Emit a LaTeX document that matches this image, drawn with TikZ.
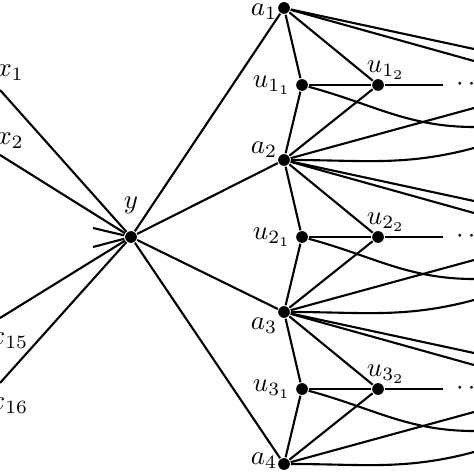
\documentclass[tikz,border=0pt]{standalone}
\usepackage{amsmath}
\usepackage{amssymb}
\begin{document}
\begin{tikzpicture}[x=0.015cm,y=-0.015cm,line width=0.9pt,
  vert/.style={circle,fill,inner sep=0pt,minimum size=5pt},
  lab/.style={inner sep=0pt,scale=1.15}]
\useasboundingbox (0,0) rectangle (474,474);
\clip (0,0) rectangle (474,474);
% centre vertex y and the leaves x_1,...,x_16
\node[vert] (y) at (131,237) {};
\node[lab] (ly) at (131,205) {$y$};
\coordinate (x1) at (0,90);
\coordinate (x2) at (0,155);
\coordinate (x15) at (0,318);
\coordinate (x16) at (0,383);
\coordinate (s1) at (93,228);
\coordinate (s2) at (93,247);
\node[lab] (lx1) at (10,73) {$x_1$};
\node[lab] (lx2) at (10,141) {$x_2$};
\node[lab] (lx15) at (9,341) {$x_{15}$};
\node[lab] (lx16) at (9,406) {$x_{16}$};
\foreach \v in {x1,x2,x15,x16,s1,s2}
  \draw (y) -- (\v);
% right column a_1,...,a_4
\foreach \i/\p in {1/8,2/160,3/312,4/464}
  \node[vert] (a\i) at (284,\p) {};
\foreach \i/\p in {1/12,2/150,3/326,4/461}
  \node[lab] (la\i) at (264,\p) {$a_{\i}$};
\foreach \i in {1,...,4}
  \draw (y) -- (a\i);
% the three pieces between a_i and a_{i+1}
\foreach \i [evaluate=\i as \t using 8+152*(\i-1), evaluate=\i as \j using int(\i+1)] in {1,2,3}
{
  \node[vert] (u\i-1) at (302,{\t+77}) {};
  \node[vert] (u\i-2) at (378,{\t+77}) {};
  \node[lab] (lu\i-1) at (272,{\t+77}) {$u_{\i_1}$};
  \node[lab] (lu\i-2) at (386,{\t+62}) {$u_{\i_2}$};
  \coordinate (e\i) at (443,{\t+77});
  \node[lab] (d\i) at (474,{\t+77}) {$\cdots$};
  \coordinate (r\i-1) at (474,{\t+41});
  \coordinate (r\i-2) at (474,{\t+53});
  \coordinate (r\i-3) at (474,{\t+100});
  \coordinate (r\i-4) at (474,{\t+119});
  \coordinate (r\i-5) at (474,{\t+140});
  \draw (a\i) -- (u\i-1) -- (a\j) -- (u\i-2) -- (a\i);
  \draw (u\i-1) -- (u\i-2) -- (e\i);
  \draw (a\i) -- (r\i-1);
  \draw (a\i) -- (r\i-2);
  \draw (a\j) -- (r\i-3);
  \draw (u\i-1) to[out=-15,in=180] (r\i-4);
  \draw (a\j) to[out=0,in=195] (r\i-5);
}
\end{tikzpicture}
\end{document}
